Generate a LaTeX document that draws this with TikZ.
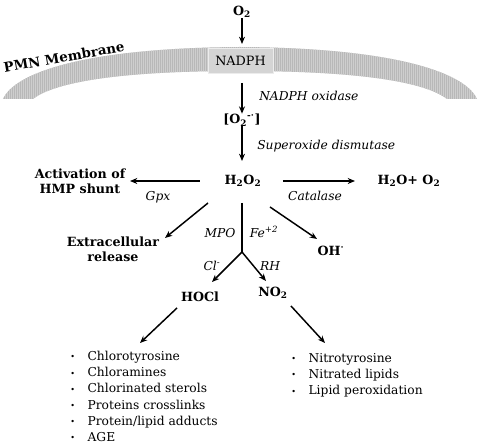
\documentclass[tikz,border=0pt]{standalone}
\usepackage{fontspec}
\setmainfont{DejaVu Serif}
\usetikzlibrary{arrows.meta}
\definecolor{memb}{RGB}{184,184,184}
\definecolor{membline}{RGB}{206,206,206}
\definecolor{nadbox}{RGB}{212,212,212}
\newcommand{\bitem}{\makebox[13pt][l]{\raisebox{0.5pt}{\fontsize{6}{6}\selectfont•}}}
\begin{document}
\begin{tikzpicture}[x=0.75pt,y=-0.75pt,
  lbl/.style={font=\fontsize{9.5}{11.5}\selectfont\bfseries, inner sep=0pt, align=center},
  enz/.style={font=\fontsize{9.2}{11}\selectfont\itshape, inner sep=0pt},
  arr/.style={line width=1.1pt, -{Stealth[length=5.5pt,width=4.5pt]}},
  ln/.style={line width=1.1pt},
  lst/.style={font=\fontsize{9.2}{12.15}\selectfont, inner sep=0pt, align=left, anchor=north west}]
\useasboundingbox (0,0) rectangle (480,445);
% membrane
\begin{scope}
\clip (3,99) .. controls (14,74) and (80,48) .. (240,47)
  .. controls (400,48) and (466,74) .. (477,99) -- (447,99)
  .. controls (425,82) and (360,71) .. (240,71)
  .. controls (120,71) and (55,82) .. (33,99) -- cycle;
\fill[memb] (0,40) rectangle (480,105);
\foreach \x in {1,3,...,479} \draw[membline, line width=0.35pt] (\x,40) -- (\x,105);
\end{scope}
\draw[draw=white!85!gray, fill=nadbox] (208,48) rectangle (273,73);
\node[font=\fontsize{9.6}{11}\selectfont, inner sep=0pt] (nadph) at (240.5,60.5) {NADPH};
\node[lbl, font=\fontsize{10}{12}\selectfont\bfseries, rotate=10] (pmn) at (64,57) {PMN Membrane};
% species
\node[lbl] (o2) at (242,12) {O\textsubscript{2}};
\coordinate (mtop) at (242,44);
\coordinate (mbot) at (242,83);
\node[lbl] (o2m) at (242,120) {[O\textsubscript{2}\textsuperscript{-·}]};
\node[lbl] (h2o2) at (243,181) {H\textsubscript{2}O\textsubscript{2}};
\node[lbl] (hmp) at (80,181) {Activation of\\HMP shunt};
\node[lbl] (h2o) at (409,181) {H\textsubscript{2}O+ O\textsubscript{2}};
\node[lbl] (ext) at (113,249) {Extracellular\\release};
\node[lbl] (oh) at (331,251) {OH\textsuperscript{·}};
\node[lbl] (hocl) at (200,297) {HOCl};
\node[lbl] (no2) at (273,293) {NO\textsubscript{2}};
\coordinate (fork) at (242,252);
% arrows
\draw[arr] (o2) -- (mtop);
\draw[arr] (mbot) -- (o2m);
\draw[arr] (o2m) -- (242,161) coordinate (sdend);
\draw[arr] (200,181) coordinate (hs) -- (130,181) coordinate (he);
\draw[arr] (283,181) coordinate (cs) -- (355,181) coordinate (ce);
\draw[arr] (208,203) coordinate (es) -- (165,238) coordinate (ee);
\draw[ln] (242,203) coordinate (vs) -- (fork);
\draw[arr] (270,207) coordinate (os) -- (317,239) coordinate (oe);
\draw[arr] (fork) -- (212,282) coordinate (hoe);
\draw[arr] (fork) -- (266,281) coordinate (noe);
\draw[arr] (177,308) coordinate (l1s) -- (140,343) coordinate (l1e);
\draw[arr] (291,306) coordinate (l2s) -- (325,343) coordinate (l2e);
% enzyme labels
\node[enz, anchor=west] (nox) at (259,96) {NADPH oxidase};
\node[enz, anchor=west] (sod) at (257,146) {Superoxide dismutase};
\node[enz] (gpx) at (158,197) {Gpx};
\node[enz] (cat) at (315,196) {Catalase};
\node[enz] (mpo) at (220,233) {MPO};
\node[enz] (fe) at (264,232) {Fe\textsuperscript{+2}};
\node[enz] (cl) at (212,266) {Cl\textsuperscript{-}};
\node[enz] (rh) at (270,266) {RH};
% lists
\node[lst] (list1) at (70,351) {\bitem Chlorotyrosine\\
\bitem Chloramines\\
\bitem Chlorinated sterols\\
\bitem Proteins crosslinks\\
\bitem Protein/lipid adducts\\
\bitem AGE};
\node[lst] (list2) at (291,353) {\bitem Nitrotyrosine\\
\bitem Nitrated lipids\\
\bitem Lipid peroxidation};
\end{tikzpicture}
\end{document}
